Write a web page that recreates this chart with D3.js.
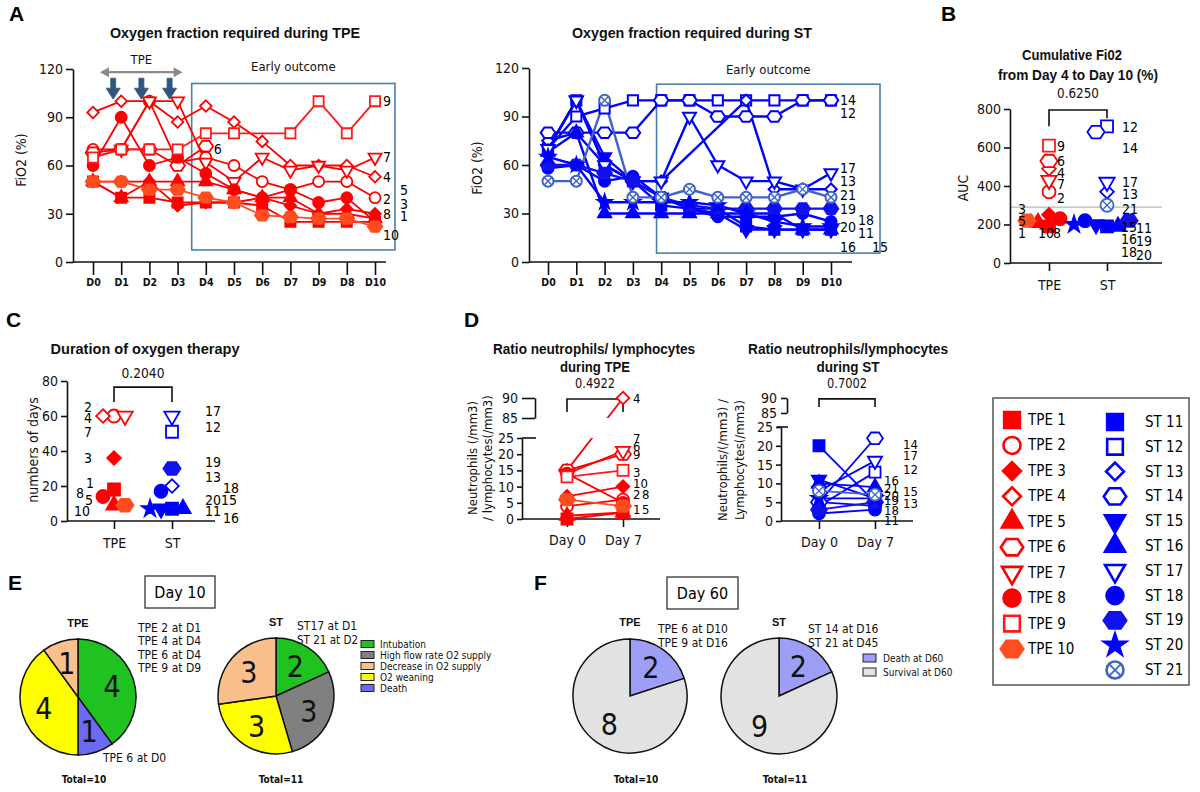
<!DOCTYPE html>
<html>
<head>
<meta charset="utf-8">
<script src="https://cdn.jsdelivr.net/npm/d3@7"></script>
<style>
  body { margin: 0; background: #fff; }
</style>
</head>
<body>
<script>
const W = 1200, H = 792;
const SANS = "'Liberation Sans', Arial, sans-serif";
const NARROW = "'Liberation Sans Narrow', 'DejaVu Sans Condensed', 'Liberation Sans', sans-serif";

// ---------- data ----------
const tpeDays = ["D0", "D1", "D2", "D3", "D4", "D5", "D6", "D7", "D9", "D8", "D10"]; // as printed
const stDays = ["D0", "D1", "D2", "D3", "D4", "D5", "D6", "D7", "D8", "D9", "D10"];
const fio2Ticks = [0, 30, 60, 90, 120];

const tpeIds = ["1", "2", "3", "4", "5", "6", "7", "8", "9", "10"];
const stIds = ["11", "12", "13", "14", "15", "16", "17", "18", "19", "20", "21"];

// FiO2 (%) per patient, one value per day
const fio2TPE = [
  [50, 40, 40, 37, 37, 37, 35, 25, 25, 25, 25],
  [70, 70, 100, 62, 65, 60, 50, 45, 50, 50, 40],
  [50, 50, 50, 35, 37, 37, 40, 35, 30, 33, 30],
  [93, 100, 100, 87, 97, 87, 75, 60, 60, 60, 53],
  [50, 40, 50, 50, 50, 45, 40, 40, 30, 30, 27],
  [68, 70, 70, 60, 72, null, null, null, null, null, null],
  [65, 70, 100, 100, 62, 50, 65, 57, 60, 57, 65],
  [60, 90, 60, 65, 55, 45, 40, 45, 37, 40, 25],
  [65, 70, 70, 70, 80, 80, null, 80, 100, 80, 100],
  [50, 50, 45, 45, 40, 37, 29, 28, 27, 27, 22]
];
const fio2ST = [
  [70, 100, 60, 50, 35, 33, 33, 22, 20, 20, 20],
  [70, 90, 95, 100, 100, 100, 100, 100, 100, 100, 100],
  [75, 80, 60, 50, 50, null, null, 100, 45, 45, 45],
  [80, 80, 80, 80, 100, 100, 90, 90, 90, 100, 100],
  [70, 100, 65, 50, 40, 33, 30, 20, 20, 20, 20],
  [68, 80, 30, 30, 30, 30, 30, 30, 30, 20, 20],
  [70, 100, 60, 50, 50, 90, 60, 50, 50, 45, 55],
  [58, 60, 50, 53, 40, 33, 28, 28, 28, 30, 25],
  [60, 60, 55, 50, 40, 35, 33, 33, 33, 33, 33],
  [65, 60, 37, 37, 37, 37, 35, 30, 25, 22, 22],
  [50, 50, 100, 40, 40, 45, 40, 40, 40, 45, 40]
];
// end-of-line patient labels (value units) and their column
const aTpeLabY = [28.5, 39, 36, 53, 44.5, 70, 65, 30, 100, 17];
const aTpeLabCol = [1, 0, 1, 0, 1, 0, 0, 0, 0, 0];
const aStLabY = [18, 92, 50, 100, 9, 9.5, 58, 26, 33, 21.5, 41.5];
const aStLabCol = [1, 0, 0, 0, 2, 0, 0, 1, 0, 0, 0];

// B: cumulative FiO2 AUC day 4-10
const aucTicks = [0, 200, 400, 600, 800];
const aucTPE = [190, 370, 250, 490, 210, 530, 430, 230, 610, 220];
const aucST = [190, 710, 370, 680, 200, 190, 420, 220, 220, 200, 300];
const aucRef = 290;
const aucP = "0.6250";
const bLabTPE = [["9", 608], ["6", 530], ["4", 470], ["7", 410], ["2", 337], ["3", 280], ["5", 218], ["1", 156], ["10", 156], ["8", 156]];
const bLabST = [["12", 707], ["14", 597], ["17", 421], ["13", 358], ["21", 280], ["15", 187], ["11", 182], ["16", 125], ["19", 114], ["18", 57], ["20", 42]];

// C: duration of oxygen therapy (days)
const durTicks = [0, 20, 40, 60, 80];
const durTPE = [18, 60, 36, 60, 9, null, 60, 14, null, 9];
const durST = [7, 51, 20, null, 7, 7, 60, 17, 30, 7, null];
const durP = "0.2040";
const cLabTPE = [["2", 65], ["4", 59], ["7", 51], ["3", 36], ["1", 22], ["8", 16], ["5", 12], ["10", 6]];
const cLabST = [["17", 63], ["12", 54], ["19", 34], ["13", 25], ["18", 19], ["20", 12], ["15", 12], ["11", 6], ["16", 2]];

// D: neutrophil / lymphocyte ratio, day 0 and day 7
const nlrDays = ["Day 0", "Day 7"];
const nlrLowTicks = [0, 5, 10, 15, 20, 25];
const nlrHighTicks = [85, 90];
const nlrTPE0 = [0, 4, 7, 15, 1, 15, 14, 14, 13, 6];
const nlrTPE7 = [2, 6, 10, 90, 2, 20, 21, 5, 15, 4];
const nlrST0 = [20, 4, 5, 5, 11, 10, 8, 2, 3, 6, 8];
const nlrST7 = [5, 13, 4, 22, 6, 9, 16, 3, 5, 6, 7];
const nlrPTPE = "0.4922", nlrPST = "0.7002";
const dLabTPE = [["4", 90], ["7", 25], ["6", 22.5], ["9", 20], ["3", 14.5], ["10", 11], ["2", 7.7], ["8", 7.7], ["1", 3], ["5", 3]];
const dLabST = [["14", 20.5], ["17", 17.5], ["12", 13.8], ["16", 10.9], ["21", 8.8], ["15", 8], ["20", 6.9], ["19", 5.6], ["13", 4.8], ["18", 2.9], ["11", 0.3]];

// E / F: outcomes
const outcomeCats = ["Intubation", "High flow rate O2 supply", "Death", "O2 weaning", "Decrease in O2 supply"];
const outcomeLegend = ["Intubation", "High flow rate O2 supply", "Decrease in O2 supply", "O2 weaning", "Death"];
const day10TPE = [4, 0, 1, 4, 1];
const day10ST = [2, 3, 0, 3, 3];
const day60Cats = ["Death at D60", "Survival at D60"];
const day60TPE = [2, 8];
const day60ST = [2, 9];

// ---------- styles ----------
const tpeShape = ["square", "circle", "diamond", "diamond", "triUp", "hex", "triDown", "circle", "square", "hex"];
const tpeFill = [true, false, true, false, true, false, false, true, false, true];
const tpeColor = ["#ff0000", "#ff0000", "#ff0000", "#ff0000", "#ff0000", "#ff0000", "#ff0000", "#ff0000", "#ff1a1a", "#ff4d1f"];
const stShape = ["square", "square", "diamond", "hex", "triDown", "triUp", "triDown", "circle", "hex", "star", "xcircle"];
const stFill = [true, false, false, false, true, true, false, true, true, true, false];
const stColor = ["#0000ff", "#0000ff", "#0000ff", "#0000ff", "#0000ff", "#0000ff", "#0000ff", "#0000ff", "#1010f0", "#0000ff", "#3f63c9"];
const outcomeColor = { "Intubation": "#1fc21f", "High flow rate O2 supply": "#808080", "Death": "#6a6af5", "O2 weaning": "#ffff00", "Decrease in O2 supply": "#f9c08e" };
const day60Color = { "Death at D60": "#9e9ef7", "Survival at D60": "#e2e2e2" };

const svg = d3.select("body").append("svg").attr("width", W).attr("height", H);
svg.append("rect").attr("width", W).attr("height", H).attr("fill", "#fff");

function T(x, y, s, o = {}) {
  const t = svg.append("text").attr("x", x).attr("y", y).text(s)
    .attr("font-size", o.fs || 13).attr("font-weight", o.fw || "normal")
    .attr("text-anchor", o.a || "start").attr("font-family", o.ff || SANS)
    .attr("fill", o.c || "#111");
  if (o.len) t.attr("textLength", o.len).attr("lengthAdjust", "spacingAndGlyphs");
  if (o.rot) t.attr("transform", `rotate(${o.rot},${x},${y})`);
  return t;
}

function styleAxis(sel, fs, fam, fw) {
  sel.selectAll(".domain, .tick line").attr("stroke", "#111").attr("stroke-width", 1.6);
  sel.selectAll("text").attr("font-size", fs).attr("font-family", fam || SANS)
    .attr("font-weight", fw || "normal").attr("fill", "#111");
}

function symPath(shape, s) {
  switch (shape) {
    case "square": return d3.symbol(d3.symbolSquare, s * s * 0.85)();
    case "circle": case "xcircle": return d3.symbol(d3.symbolCircle, Math.PI * s * s / 4)();
    case "diamond": return d3.symbol(d3.symbolSquare, s * s * 0.55)();
    case "triUp": case "triDown": return d3.symbol(d3.symbolTriangle, s * s * 0.6)();
    case "star": return d3.symbol(d3.symbolStar, s * s * 0.5)();
    case "hex": {
      const w = s * 0.66, h = s * 0.48;
      return d3.line()([[-w, 0], [-w / 2, -h], [w / 2, -h], [w, 0], [w / 2, h], [-w / 2, h]]) + "Z";
    }
  }
}

function marker(g, x, y, shape, filled, color, s, sw = 1.8) {
  const m = g.append("g").attr("transform", `translate(${x},${y})`);
  const rot = shape === "diamond" ? 45 : shape === "triDown" ? 180 : 0;
  m.append("path").attr("d", symPath(shape, s))
    .attr("transform", rot ? `rotate(${rot})` : null)
    .attr("fill", filled ? color : "#fff").attr("stroke", color)
    .attr("stroke-width", sw).attr("stroke-linejoin", "miter");
  if (shape === "xcircle") {
    const r = s * 0.33;
    m.append("path").attr("d", `M${-r},${-r}L${r},${r}M${-r},${r}L${r},${-r}`)
      .attr("stroke", color).attr("stroke-width", sw * 0.7);
  }
  return m;
}

// beeswarm-like horizontal dodge, computed in pixel space
function dodge(vals, y, step, minDist) {
  const placed = [];
  return vals.map(v => {
    if (v == null) return null;
    const py = y(v);
    for (let k = 0; k < 12; k++) {
      const dx = k === 0 ? 0 : (k % 2 ? -1 : 1) * Math.ceil(k / 2) * step;
      if (placed.every(p => Math.hypot(p[0] - dx, p[1] - py) >= minDist)) {
        placed.push([dx, py]);
        return dx;
      }
    }
    return 0;
  });
}

// ---------- panel letters ----------
[["A", 9, 21], ["B", 941, 21], ["C", 6, 327], ["D", 464, 327], ["E", 8, 590], ["F", 534, 590]]
  .forEach(([l, x, y]) => T(x, y, l, { fs: 21, fw: "bold", c: "#000" }));

// ---------- A: FiO2 panels ----------
function fio2Panel(o) {
  const g = svg.append("g");
  const x = d3.scalePoint().domain(o.days).range(o.xr);
  const y = d3.scaleLinear().domain([0, 120]).range(o.yr);

  const bx0 = (x(o.days[3]) + x(o.days[4])) / 2 + o.boxShift;
  const bx1 = x(o.days[10]) + o.boxRight;
  g.append("rect").attr("x", bx0).attr("y", y(o.boxTop))
    .attr("width", bx1 - bx0).attr("height", y(o.boxBottom) - y(o.boxTop))
    .attr("fill", "none").attr("stroke", "#4e7fa8").attr("stroke-width", 1.6);
  T((bx0 + bx1) / 2, y(o.boxTop) - o.boxTextGap, "Early outcome", { fs: 13, a: "middle", ff: NARROW });

  const ya = g.append("g").attr("transform", `translate(${o.axisX},0)`)
    .call(d3.axisLeft(y).tickValues(fio2Ticks).tickSize(7).tickSizeOuter(0).tickPadding(3));
  styleAxis(ya, 14, NARROW);
  const xa = g.append("g").attr("transform", `translate(0,${y(0)})`)
    .call(d3.axisBottom(x).tickSize(13).tickSizeOuter(0).tickPadding(4));
  styleAxis(xa, 10.5, NARROW, "bold");
  xa.select(".domain").attr("d", `M${o.axisX},0H${o.axisEnd}`);

  T(o.title[0], o.title[1], o.title[2], { fs: 14, fw: "bold", a: "middle", len: o.title[3] });
  T(o.ylab[0], o.ylab[1], o.ylab[2], { fs: 14, a: "middle", rot: -90, ff: NARROW });

  const line = d3.line().x(d => x(d[0])).y(d => y(d[1]));
  o.series.forEach((vals, i) => {
    const pts = vals.map((v, j) => [o.days[j], v]).filter(d => d[1] != null);
    g.append("path").attr("d", line(pts)).attr("fill", "none")
      .attr("stroke", o.color[i]).attr("stroke-width", o.lw).attr("stroke-linejoin", "round");
  });
  o.series.forEach((vals, i) => vals.forEach((v, j) => {
    if (v != null) marker(g, x(o.days[j]), y(v), o.shape[i], o.fill[i], o.color[i], o.ms, o.sw);
  }));
  o.labY.forEach((v, i) => {
    const last = d3.max(o.series[i].map((d, j) => d == null ? -1 : j));
    T(x(o.days[last]) + o.labDx[o.labCol[i]], y(v) + 5, o.ids[i], { fs: 14, ff: NARROW, c: "#000" });
  });
  return { x, y, g };
}

const aL = fio2Panel({
  days: tpeDays, series: fio2TPE, ids: tpeIds, shape: tpeShape, fill: tpeFill, color: tpeColor,
  xr: [93, 375], yr: [262, 69], axisX: 73, axisEnd: 386,
  boxShift: 0, boxRight: 20, boxTop: 111, boxBottom: 7.5, boxTextGap: 12,
  title: [235, 38, "Oxygen fraction required during TPE", 250],
  ylab: [26, 160, "FiO2  (%)"],
  lw: 1.8, ms: 11, sw: 1.8, labY: aTpeLabY, labCol: aTpeLabCol, labDx: [8, 25]
});
// TPE sessions: double arrow and three session arrows
{
  const { x, y, g } = aL;
  const ay = y(118), xa0 = x("D0") + 7, xa1 = x("D3") + 5;
  g.append("line").attr("x1", xa0 + 6).attr("x2", xa1 - 6).attr("y1", ay).attr("y2", ay)
    .attr("stroke", "#8a8a8a").attr("stroke-width", 2.2);
  g.append("path").attr("d", `M${xa0},${ay}l9,-5v10z M${xa1},${ay}l-9,-5v10z`).attr("fill", "#8a8a8a");
  T((xa0 + xa1) / 2, ay - 8, "TPE", { fs: 13, a: "middle", ff: NARROW });
  ["D1", "D2", "D3"].forEach(d => {
    const ax = x(d) - 8;
    g.append("path")
      .attr("d", `M${ax - 2.5},${ay + 6}h5v10h4.5l-7,11l-7,-11h4.5z`)
      .attr("fill", "#2f5680").attr("stroke", "#2f5680").attr("stroke-width", 0.8);
  });
}

fio2Panel({
  days: stDays, series: fio2ST, ids: stIds, shape: stShape, fill: stFill, color: stColor,
  xr: [548, 831], yr: [262, 68], axisX: 529, axisEnd: 852,
  boxShift: 9.5, boxRight: 49, boxTop: 110, boxBottom: 5.5, boxTextGap: 10,
  title: [692, 38, "Oxygen fraction required during ST", 240],
  ylab: [482, 168, "FiO2 (%)"],
  lw: 2.4, ms: 11, sw: 2, labY: aStLabY, labCol: aStLabCol, labDx: [9, 27, 41]
});

// ---------- B and C: dot plots ----------
function dotPanel(o) {
  const g = svg.append("g");
  const x = d3.scalePoint().domain(["TPE", "ST"]).range(o.xr);
  const y = d3.scaleLinear().domain([0, o.ticks[o.ticks.length - 1]]).range(o.yr);
  if (o.ref != null) {
    g.append("line").attr("x1", o.axisX).attr("x2", o.axisEnd).attr("y1", y(o.ref)).attr("y2", y(o.ref))
      .attr("stroke", "#b8b8b8").attr("stroke-width", 1.2);
  }
  const ya = g.append("g").attr("transform", `translate(${o.axisX},0)`)
    .call(d3.axisLeft(y).tickValues(o.ticks).tickSize(6).tickSizeOuter(0).tickPadding(3));
  styleAxis(ya, 14, NARROW);
  const xa = g.append("g").attr("transform", `translate(0,${y(0)})`)
    .call(d3.axisBottom(x).tickSize(8).tickSizeOuter(0).tickPadding(9));
  styleAxis(xa, 14, NARROW);
  xa.select(".domain").attr("d", `M${o.axisX},0H${o.axisEnd}`);

  g.append("path").attr("d", `M${x("TPE")},${y(o.br[1])}V${y(o.br[0])}H${x("ST")}V${y(o.br[2])}`)
    .attr("fill", "none").attr("stroke", "#111").attr("stroke-width", 1.6);

  const groups = [
    ["TPE", o.tpe, tpeShape, tpeFill, tpeColor, o.labTPE, o.dxTPE],
    ["ST", o.st, stShape, stFill, stColor, o.labST, o.dxST]
  ];
  groups.forEach(([key, vals, shp, fil, col]) => {
    const off = dodge(vals, y, o.step, o.minDist);
    vals.forEach((v, i) => {
      if (v != null) marker(g, x(key) + off[i], y(v), shp[i], fil[i], col[i], o.ms, 1.8);
    });
  });
  groups.forEach(([key, , , , , labs, dxs]) => {
    labs.forEach(([t, v], i) => T(x(key) + dxs[i], y(v) + 5, t, { fs: 14, ff: NARROW, c: "#000" }));
  });
  o.titles.forEach(([tx, ty, s, fw, len]) => T(tx, ty, s, { fs: 14, fw, a: "middle", len, ff: fw === "bold" ? SANS : NARROW }));
  T(o.ylab[0], o.ylab[1], o.ylab[2], { fs: 14, a: "middle", rot: -90, ff: NARROW });
}

dotPanel({
  xr: [1049, 1107], yr: [263, 109], ticks: aucTicks, axisX: 1010, axisEnd: 1162,
  tpe: aucTPE, st: aucST, ref: aucRef, br: [795, 710, 752], ms: 13, step: 11, minDist: 7.5,
  labTPE: bLabTPE, dxTPE: [8, 8, 8, 8, 8, -31, -31, -31, -11, 4],
  labST: bLabST, dxST: [15, 15, 15, 15, 15, 14, 29, 14, 29, 14, 29],
  titles: [[1072, 60, "Cumulative Fi02", "bold", 100], [1078, 80, "from Day 4 to Day 10  (%)", "bold", 160], [1078, 98, aucP, "normal", 42]],
  ylab: [968, 188, "AUC"]
});

dotPanel({
  xr: [114, 172], yr: [521, 381], ticks: durTicks, axisX: 67, axisEnd: 215,
  tpe: durTPE, st: durST, ref: null, br: [76.5, 68, 68], ms: 13, step: 11, minDist: 10,
  labTPE: cLabTPE, dxTPE: [-30, -30, -30, -30, -28, -38, -29, -40],
  labST: cLabST, dxST: [33, 33, 33, 33, 51, 33, 49, 33, 51],
  titles: [[145, 354, "Duration of oxygen therapy", "bold", 189], [143, 378, durP, "normal", 43]],
  ylab: [38, 450, "numbers of days"]
});

// ---------- D: broken-axis ratio panels ----------
function ratioPanel(o) {
  const g = svg.append("g");
  const x = d3.scalePoint().domain(nlrDays).range(o.xr);
  const yLo = d3.scaleLinear().domain([0, 25]).range(o.yLo);
  const yHi = d3.scaleLinear().domain([85, 90]).range(o.yHi);
  const yy = v => v <= 25 ? yLo(v) : yHi(v);

  const la = g.append("g").attr("transform", `translate(${o.axisX},0)`)
    .call(d3.axisLeft(yLo).tickValues(nlrLowTicks).tickFormat(d3.format("d")).tickSize(5).tickSizeOuter(0).tickPadding(3));
  styleAxis(la, 14, NARROW);
  g.append("line").attr("x1", o.axisX + o.stub[0]).attr("x2", o.axisX + o.stub[1])
    .attr("y1", yLo(25)).attr("y2", yLo(25)).attr("stroke", "#111").attr("stroke-width", 1.6);
  const ha = g.append("g").attr("transform", `translate(${o.axisX + o.hiShift},0)`)
    .call(d3.axisLeft(yHi).tickValues(nlrHighTicks).tickFormat(d3.format("d")).tickSize(o.hiShift).tickSizeOuter(0).tickPadding(4));
  styleAxis(ha, 14, NARROW);
  const xa = g.append("g").attr("transform", `translate(0,${yLo(0)})`)
    .call(d3.axisBottom(x).tickSize(8).tickSizeOuter(0).tickPadding(8));
  styleAxis(xa, 14, NARROW);
  xa.select(".domain").attr("d", `M${o.axisX},0H${o.axisEnd}`);

  g.append("path").attr("d", `M${x("Day 0")},${yHi(o.br[1])}V${yHi(o.br[0])}H${x("Day 7")}V${yHi(o.br[1])}`)
    .attr("fill", "none").attr("stroke", "#111").attr("stroke-width", 1.6);

  const cp = g.append("clipPath").attr("id", o.id);
  cp.append("rect").attr("x", o.axisX).attr("y", yHi(90) - 10).attr("width", o.axisEnd - o.axisX + 20).attr("height", yHi(85) - yHi(90) + 10);
  cp.append("rect").attr("x", o.axisX).attr("y", yLo(25)).attr("width", o.axisEnd - o.axisX + 20).attr("height", yLo(0) - yLo(25) + 10);
  const lg = g.append("g").attr("clip-path", `url(#${o.id})`);
  o.d0.forEach((v, i) => {
    lg.append("line").attr("x1", x("Day 0")).attr("y1", yy(v)).attr("x2", x("Day 7")).attr("y2", yy(o.d7[i]))
      .attr("stroke", o.color[i]).attr("stroke-width", 1.8);
  });
  o.d0.forEach((v, i) => {
    marker(g, x("Day 0"), yy(v), o.shape[i], o.fill[i], o.color[i], o.ms, 1.8);
    marker(g, x("Day 7"), yy(o.d7[i]), o.shape[i], o.fill[i], o.color[i], o.ms, 1.8);
  });
  o.labs.forEach(([t, v], i) => T(x("Day 7") + o.labDx[i], yy(v) + 5, t, { fs: 13, ff: NARROW, c: "#000" }));

  o.titles.forEach(([tx, ty, s, fw, len]) => T(tx, ty, s, { fs: 14, fw, a: "middle", len, ff: fw === "bold" ? SANS : NARROW }));
  o.ylabs.forEach(([lx, ly, s]) => T(lx, ly, s, { fs: 13, a: "middle", rot: -90, ff: NARROW }));
}

ratioPanel({
  id: "clipDL", xr: [567, 623], yLo: [519, 438], yHi: [418, 398], axisX: 522, axisEnd: 660,
  hiShift: 13, stub: [0, 14], br: [89.75, 86.5], ms: 12,
  d0: nlrTPE0, d7: nlrTPE7, shape: tpeShape, fill: tpeFill, color: tpeColor,
  labs: dLabTPE, labDx: [10, 10, 10, 10, 10, 10, 10, 19, 10, 19],
  titles: [[594, 354, "Ratio neutrophils/ lymphocytes", "bold", 202], [595, 372, "during TPE", "bold", 70], [595, 388, nlrPTPE, "normal", 40]],
  ylabs: [[477, 458, "Neutrophils (/mm3)"], [492, 458, "/ lymphocytes(/mm3)"]]
});
ratioPanel({
  id: "clipDR", xr: [819, 875], yLo: [521, 427], yHi: [413, 398], axisX: 781, axisEnd: 913,
  hiShift: 6, stub: [-4, 7], br: [89.7, 87], ms: 12,
  d0: nlrST0, d7: nlrST7, shape: stShape, fill: stFill, color: stColor,
  labs: dLabST, labDx: [28, 28, 28, 9, 9, 28, 9, 9, 28, 9, 9],
  titles: [[848, 354, "Ratio neutrophils/lymphocytes", "bold", 200], [848, 372, "during ST", "bold", 63], [847, 388, nlrPST, "normal", 40]],
  ylabs: [[727, 460, "Neutrophils/(/mm3) /"], [744, 460, "Lymphocytes(/mm3)"]]
});

// ---------- symbol legend ----------
svg.append("rect").attr("x", 993).attr("y", 398).attr("width", 196).attr("height", 287)
  .attr("fill", "none").attr("stroke", "#555").attr("stroke-width", 1.5);
{
  const yT = d3.scalePoint().domain(tpeIds).range([420, 649]);
  const yS = d3.scalePoint().domain(stIds).range([422, 670]);
  tpeIds.forEach((id, i) => {
    marker(svg, 1012, yT(id), tpeShape[i], tpeFill[i], tpeColor[i], 17, 2.6);
    T(1028, yT(id) + 5, "TPE " + id, { fs: 15, ff: NARROW, c: "#000" });
  });
  stIds.forEach((id, i) => {
    marker(svg, 1115, yS(id), stShape[i], stFill[i], stColor[i], 17, 2.6);
    T(1145, yS(id) + 5, "ST " + id, { fs: 15, ff: NARROW, c: "#000" });
  });
}

// ---------- E and F: pies ----------
function pie(cx, cy, r, vals, cats, colors) {
  const arcs = d3.pie().sort(null)(vals);
  const arc = d3.arc().innerRadius(0).outerRadius(r);
  const lab = d3.arc().innerRadius(r * 0.62).outerRadius(r * 0.62);
  const g = svg.append("g").attr("transform", `translate(${cx},${cy})`);
  g.selectAll("path").data(arcs.filter(a => a.value > 0)).join("path")
    .attr("d", arc).attr("fill", a => colors[cats[a.index]])
    .attr("stroke", "#111").attr("stroke-width", 1.5);
  g.selectAll("text").data(arcs.filter(a => a.value > 0)).join("text")
    .attr("transform", a => `translate(${lab.centroid(a)})`).attr("dy", "0.36em")
    .attr("text-anchor", "middle").attr("font-size", 30).attr("font-family", NARROW)
    .attr("fill", "#111").text(a => a.value);
}

function dayBox(x, y, w, h, s) {
  svg.append("rect").attr("x", x).attr("y", y).attr("width", w).attr("height", h)
    .attr("fill", "#fff").attr("stroke", "#333").attr("stroke-width", 1.3);
  T(x + w / 2, y + h / 2 + 6, s, { fs: 16, a: "middle", ff: NARROW, c: "#000" });
}

dayBox(145, 576, 70, 32, "Day 10");
T(78, 627, "TPE", { fs: 11, fw: "bold", a: "middle" });
pie(78, 697, 58, day10TPE, outcomeCats, outcomeColor);
["TPE 2  at D1", "TPE 4 at D4", "TPE 6 at D4", "TPE 9 at D9"]
  .forEach((s, i) => T(138, 632 + i * 13.3, s, { fs: 12, ff: NARROW, c: "#111" }));
T(103, 762, "TPE 6 at D0", { fs: 12, ff: NARROW });
T(84, 783, "Total=10", { fs: 10, fw: "bold", a: "middle", ff: NARROW });

T(276, 626, "ST", { fs: 11, fw: "bold", a: "middle" });
pie(276, 696, 58, day10ST, outcomeCats, outcomeColor);
T(297, 630, "ST17 at D1", { fs: 12, ff: NARROW });
T(297, 644, "ST 21 at D2", { fs: 12, ff: NARROW, len: 61 });
T(281, 783, "Total=11", { fs: 10, fw: "bold", a: "middle", ff: NARROW });

outcomeLegend.forEach((c, i) => {
  const ly = 644 + i * 11;
  svg.append("rect").attr("x", 361).attr("y", ly - 3.5).attr("width", 13).attr("height", 7)
    .attr("fill", outcomeColor[c]).attr("stroke", "#222").attr("stroke-width", 1);
  T(380, ly + 4, c, { fs: 10, ff: NARROW });
});

dayBox(667, 577, 71, 32, "Day 60");
T(630, 626, "TPE", { fs: 11, fw: "bold", a: "middle" });
pie(630, 696, 57, day60TPE, day60Cats, day60Color);
T(658, 633, "TPE 6 at D10", { fs: 12, ff: NARROW });
T(658, 647, "TPE 9 at D16", { fs: 12, ff: NARROW });
T(636, 783, "Total=10", { fs: 10, fw: "bold", a: "middle", ff: NARROW });

T(779, 626, "ST", { fs: 11, fw: "bold", a: "middle" });
pie(779, 696, 58, day60ST, day60Cats, day60Color);
T(808, 633, "ST 14 at D16", { fs: 12, ff: NARROW });
T(808, 647, "ST 21 at D45", { fs: 12, ff: NARROW });
T(785, 783, "Total=11", { fs: 10, fw: "bold", a: "middle", ff: NARROW });

day60Cats.forEach((c, i) => {
  const ly = 658 + i * 14;
  svg.append("rect").attr("x", 863).attr("y", ly - 4).attr("width", 13).attr("height", 8)
    .attr("fill", day60Color[c]).attr("stroke", "#222").attr("stroke-width", 1);
  T(883, ly + 4, c, { fs: 10, ff: NARROW });
});
</script>
</body>
</html>
